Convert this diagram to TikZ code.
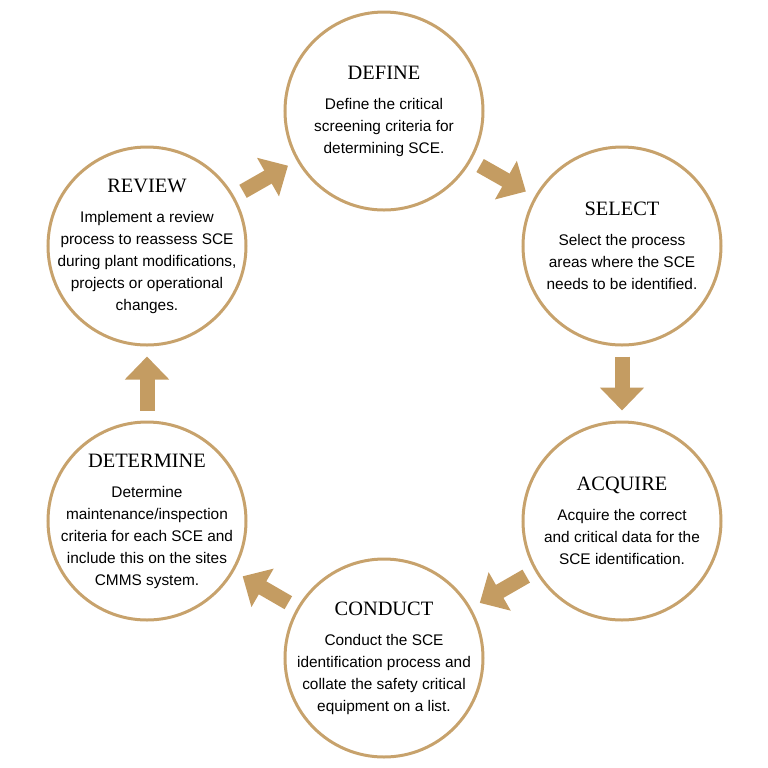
\documentclass[tikz,border=0pt]{standalone}
\usepackage{fontspec}
\setmainfont{Liberation Sans}
\newfontfamily\headfont{Liberation Serif}
\usetikzlibrary{arrows.meta}
\definecolor{colRing}{RGB}{199,162,108}
\definecolor{colArrow}{RGB}{196,156,98}
\newcommand{\stagetitle}[1]{{\headfont\fontsize{10.2}{12}\selectfont #1}}

\begin{document}
\begin{tikzpicture}[
    x=0.5pt, y=-0.5pt,
    every node/.style={font=\fontsize{7.7}{11}\selectfont, align=center},
    stage/.style={draw=colRing, line width=1.5pt, circle, minimum size=99pt, inner sep=-14pt},
    flow/.style={draw=colArrow, line width=7.5pt, -{Triangle[length=11.5pt, width=21.5pt]}, shorten <=5pt, shorten >=5pt}
]
    \useasboundingbox (0,0) rectangle (768,768);

    \node[stage] (def) at (384,111) {\stagetitle{DEFINE}\\[4pt] Define the critical\\ screening criteria for\\ determining SCE.};
    \node[stage] (sel) at (622,246) {\stagetitle{SELECT}\\[4pt] Select the process\\ areas where the SCE\\ needs to be identified.};
    \node[stage] (acq) at (622,521) {\stagetitle{ACQUIRE}\\[4pt] Acquire the correct\\ and critical data for the\\ SCE identification.};
    \node[stage] (con) at (384,658) {\stagetitle{CONDUCT}\\[4pt] Conduct the SCE\\ identification process and\\ collate the safety critical\\ equipment on a list.};
    \node[stage] (det) at (147,521) {\stagetitle{DETERMINE}\\[4pt] Determine\\ maintenance/inspection\\ criteria for each SCE and\\ include this on the sites\\ CMMS system.};
    \node[stage] (rev) at (147,246) {\stagetitle{REVIEW}\\[4pt] Implement a review\\ process to reassess SCE\\ during plant modifications,\\ projects or operational\\ changes.};

    \draw[flow] (def) -- (sel);
    \draw[flow] (sel) -- (acq);
    \draw[flow] (acq) -- (con);
    \draw[flow] (con) -- (det);
    \draw[flow] (det) -- (rev);
    \draw[flow] (rev) -- (def);
\end{tikzpicture}
\end{document}
